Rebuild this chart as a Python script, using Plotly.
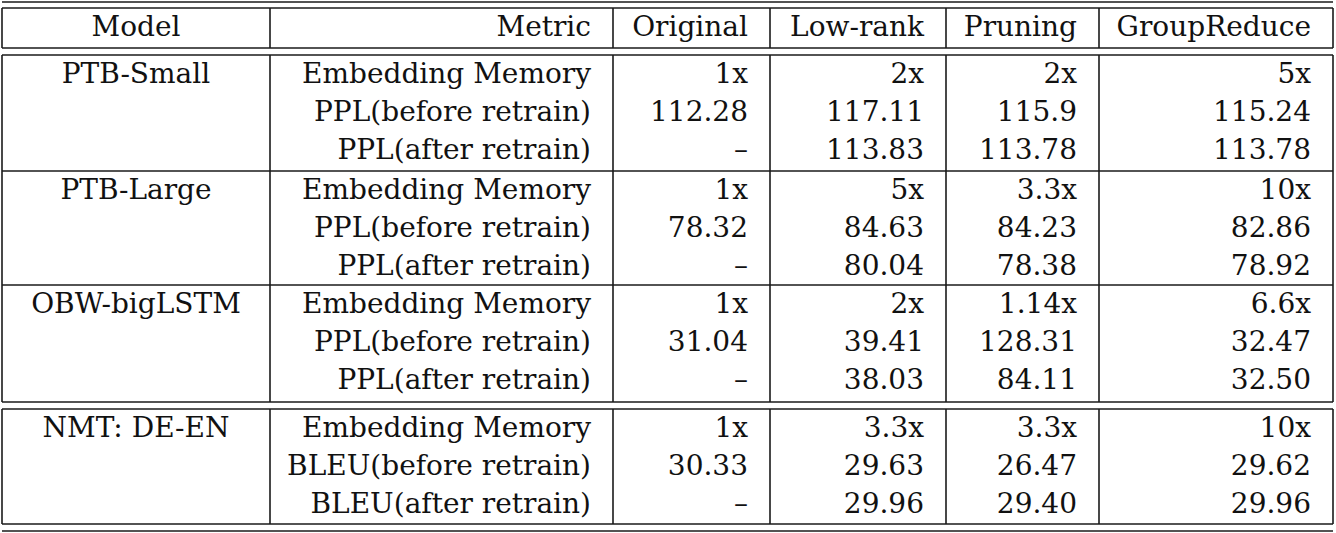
import plotly.graph_objs as go

# table contents
models = ['PTB-Small', 'PTB-Large', 'OBW-bigLSTM', 'NMT: DE-EN']
methods = ['Original', 'Low-rank', 'Pruning', 'GroupReduce']
metrics = [
    ['Embedding Memory', 'PPL(before retrain)', 'PPL(after retrain)'],
    ['Embedding Memory', 'PPL(before retrain)', 'PPL(after retrain)'],
    ['Embedding Memory', 'PPL(before retrain)', 'PPL(after retrain)'],
    ['Embedding Memory', 'BLEU(before retrain)', 'BLEU(after retrain)'],
]
emb_memory = [
    ['1x', '2x', '2x', '5x'],
    ['1x', '5x', '3.3x', '10x'],
    ['1x', '2x', '1.14x', '6.6x'],
    ['1x', '3.3x', '3.3x', '10x'],
]
before_retrain = [
    ['112.28', '117.11', '115.9', '115.24'],
    ['78.32', '84.63', '84.23', '82.86'],
    ['31.04', '39.41', '128.31', '32.47'],
    ['30.33', '29.63', '26.47', '29.62'],
]
after_retrain = [
    ['–', '113.83', '113.78', '113.78'],
    ['–', '80.04', '78.38', '78.92'],
    ['–', '38.03', '84.11', '32.50'],
    ['–', '29.96', '29.40', '29.96'],
]

# geometry (pixels, axes are mapped 1:1 to the page)
W, H = 1336, 533
col_edges = [2, 270, 613, 770, 946, 1099, 1333]
group_tops = [55, 171, 285, 409]
header_top = 8
row_h = 38.4
text_off = 20.5
pad = 22
line_col = '#1a1a1a'
FONT = 'DejaVu Serif'  # no Times-like serif in the sandbox

xs, ys, txt, pos = [], [], [], []

def put(col, y, s):
    if col == 0:
        xs.append((col_edges[0] + col_edges[1]) / 2.0)
        pos.append('middle center')
    else:
        xs.append(col_edges[col + 1] - pad)
        pos.append('middle left')
    ys.append(y)
    txt.append(s)

# header
hy = header_top + text_off
put(0, hy, 'Model')
put(1, hy, 'Metric')
for j, m in enumerate(methods):
    put(j + 2, hy, m)

# body
for g, model in enumerate(models):
    rows = [emb_memory[g], before_retrain[g], after_retrain[g]]
    for r in range(3):
        y = group_tops[g] + text_off + r * row_h
        if r == 0:
            put(0, y, model)
        put(1, y, metrics[g][r])
        for j, v in enumerate(rows[r]):
            put(j + 2, y, v)

trace = go.Scatter(
    x=xs, y=ys, text=txt, mode='text',
    textposition=pos,
    textfont=dict(family=FONT, size=28, color='#111'),
    hoverinfo='skip', showlegend=False,
)

# rules
shapes = []
hlines = [2, 8, 48, 55, 171, 285, 402, 409, 524, 531]
for y in hlines:
    shapes.append(dict(type='line', xref='x', yref='y', x0=col_edges[0], x1=col_edges[-1],
                       y0=y, y1=y, line=dict(color=line_col, width=1.6)))
for x in col_edges:
    for (a, b) in [(8, 48), (55, 402), (409, 524)]:
        shapes.append(dict(type='line', xref='x', yref='y', x0=x, x1=x,
                           y0=a, y1=b, line=dict(color=line_col, width=1.6)))

layout = go.Layout(
    width=W, height=H,
    margin=dict(l=0, r=0, t=0, b=0),
    paper_bgcolor='white', plot_bgcolor='white',
    xaxis=dict(range=[0, W], visible=False, fixedrange=True),
    yaxis=dict(range=[H, 0], visible=False, fixedrange=True),
    shapes=shapes,
)

fig = go.Figure(data=[trace], layout=layout)
# page body has a default 8px margin, drop it so the table sits at 0,0
fig.write_html('out.html', config=dict(displayModeBar=False),
               post_script="document.body.style.margin='0';document.body.style.overflow='hidden';")
